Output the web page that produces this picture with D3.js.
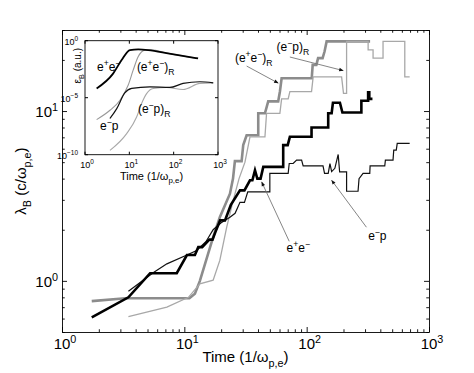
<!DOCTYPE html>
<html>
<head>
<meta charset="utf-8">
<script src="https://cdn.jsdelivr.net/npm/d3@7"></script>
<style>
body { margin: 0; background: #fff; }
svg { font-family: "Liberation Sans", Arial, sans-serif; }
</style>
</head>
<body>
<div id="chart"></div>
<script>
// main panel: lambda_B (c/w_pe) against time (1/w_pe)
var lamEE = [[1.75,0.61],[3.49,0.80],[5.25,1.11],[8.67,1.11],[10.5,1.42],[12.2,1.42],[13.0,1.58],[14.0,1.58],
  [16,1.75],[17,1.75],[18,1.95],[19.6,2.27],[21.5,2.27],[24,2.8],[28.5,3.41],[31,3.41],[34.4,3.91],[36,3.91],
  [37.8,4.48],[39.5,4.0],[42,4.0],[44.2,4.69],[64.3,4.69],[64.3,6.3],[70,6.3],[72.9,7.05],[109.6,7.05],
  [109.6,8.0],[150,8.0],[150,9.7],[160,9.7],[164,11.2],[187,11.2],[196,9.8],[280,9.8],[280,11.5],
  [318,11.5],[318,12.9],[325,12.9],[325,11.8],[345,11.8]];
var lamEP = [[3.49,0.87],[5.6,1.12],[7.2,1.26],[10.5,1.42],[12.6,1.51],[15,1.7],[17.2,2.0],[20,2.2],
  [23.6,2.37],[26,2.5],[28.5,2.9],[31,2.9],[33,3.34],[50,3.34],[50,4.29],[70.6,4.29],[72,4.91],[77.6,4.91],
  [82.7,5.14],[90.9,5.14],[93.6,4.75],[136,4.75],[140,4.29],[150,4.29],[155,4.9],[160,4.4],[170,4.6],
  [181,5.55],[186,4.38],[212,4.38],[212,3.37],[263,3.37],[268,4.0],[289,4.29],[328,4.29],[330,4.75],
  [435,4.75],[440,5.14],[508,5.14],[515,5.88],[540,5.88],[550,6.45],[695,6.45]];
var lamEER = [[1.75,0.76],[3.3,0.79],[11,0.79],[12.2,0.84],[13.4,1.0],[17.2,1.81],[19.5,2.37],[23.6,3.26],
  [25,4.0],[25.9,5.07],[29.4,5.07],[30.3,6.3],[32.3,7.2],[40.2,7.2],[40.2,9.7],[45.6,9.7],[48.5,11.4],
  [58.5,11.4],[60.4,13.0],[62.4,15.6],[110,15.6],[112,18.7],[120,18.7],[124,20.5],[135,20.5],[140,22.4],
  [145.6,25.7],[330,25.7]];
var lamEPR = [[3.49,0.615],[7.2,0.70],[10.8,0.80],[13.4,0.96],[17.2,1.01],[19.5,1.32],[22.2,2.07],
  [25.1,2.98],[28,4.0],[31.3,5.0],[34.4,7.05],[45.6,7.05],[47,9.7],[60.4,9.7],[62.4,11.8],[70.6,11.8],
  [72.9,13.0],[109.6,13.0],[113,15.9],[193,15.9],[200,12.7],[212,12.7],[212,25.7],[318,25.7],[318,22.9],
  [349,22.9],[349,20.5],[421,20.5],[421,25.7],[634,25.7],[634,15.9],[695,15.9]];

// inset: eps_B (a.u.) against time
var epsEE = [[1.83,6.5e-5],[4.3,1.3e-3],[6.7,0.02],[10.3,0.15],[15.9,0.17],[26.7,0.15],[80,0.074],[355,0.028]];
var epsEER = [[1.83,1.2e-7],[3.66,7.9e-7],[6.15,6.0e-6],[9.45,1.3e-4],[12.2,2.6e-3],[15.8,0.039],[22.5,0.15],[30,0.16],[80,0.074],[355,0.028]];
var epsEP = [[3.66,1.5e-7],[5.2,1.1e-6],[7.9,2.6e-5],[11.3,6.5e-5],[29,8.9e-5],[82,7.9e-5],[163,1.8e-4],[390,2.5e-4],[780,2.0e-4]];
var epsEPR = [[3.66,2.4e-10],[8.7,7.1e-9],[14.6,2.0e-7],[18.9,3.1e-6],[24.5,2.3e-5],[34.5,6.5e-5],[69,7.9e-5],[163,5.2e-5],[390,1.8e-4],[780,2.0e-4]];

var xTickPows = [0, 1, 2, 3];
var yTickPows = [0, 1];
var insetXPows = [0, 1, 2, 3];
var insetYPows = [0, -5, -10];

// annotations: label position, arrow start, arrow end (data coords)
var annoText = [
  {parts: [["(e",""],["+","sup"],["e",""],["\u2212","sup"],[")",""],["R","sub"]], at: [25.9,19.5], from: [32.3,18.4], to: [58.5,14.6]},
  {parts: [["(e",""],["\u2212","sup"],["p)",""],["R","sub"]], at: [56.8,22.6], from: [72.9,20.8], to: [199,17.3]},
  {parts: [["e",""],["+","sup"],["e",""],["\u2212","sup"]], at: [68.5,1.47], from: [72,1.71], to: [42.9,3.82]},
  {parts: [["e",""],["\u2212","sup"],["p",""]], at: [318,1.75], from: [308,2.07], to: [160,3.91]}
];
var insetText = [
  {parts: [["e",""],["+","sup"],["e",""],["\u2212","sup"]], at: [1.86,2.1e-3]},
  {parts: [["(e",""],["+","sup"],["e",""],["\u2212","sup"],[")",""],["R","sub"]], at: [14.8,2.1e-3]},
  {parts: [["e",""],["\u2212","sup"],["p",""]], at: [2.18,1.4e-8]},
  {parts: [["(e",""],["\u2212","sup"],["p)",""],["R","sub"]], at: [15.6,4.4e-7]}
];

var margin = {top: 30, right: 45, bottom: 41, left: 62},
    width = 474 - margin.left - margin.right,
    height = 373 - margin.top - margin.bottom;

var root = d3.select("#chart").append("svg")
    .attr("width", 474).attr("height", 373);
var svg = root.append("g")
    .attr("transform", "translate(" + margin.left + "," + margin.top + ")");

var defs = root.append("defs");
defs.append("clipPath").attr("id", "clip")
  .append("rect").attr("width", width).attr("height", height);
defs.append("marker").attr("id", "head")
    .attr("viewBox", "0 0 10 10").attr("refX", 9).attr("refY", 5)
    .attr("markerWidth", 6).attr("markerHeight", 5).attr("orient", "auto")
  .append("path").attr("d", "M0,1L10,5L0,9z").attr("fill", "#111");

// writes text with super/subscripts
function rich(t, parts, size) {
  var shift = 0;
  parts.forEach(function(p) {
    var target = p[1] === "sup" ? -size * 0.42 : p[1] === "sub" ? size * 0.32 : 0;
    t.append("tspan").attr("dy", target - shift)
      .attr("font-size", p[1] ? size * 0.72 : size).text(p[0]);
    shift = target;
  });
  return t;
}
function pow10(t, e, size) {
  return rich(t, [["10", ""], [String(e).replace("-", "\u2212"), "sup"]], size);
}
function isPow(d) {
  var l = Math.log10(d);
  return Math.abs(l - Math.round(l)) < 1e-9;
}

var x = d3.scaleLog().domain([1, 1000]).range([0, width]);
var y = d3.scaleLog().domain([0.5, 30]).range([height, 0]);

// frame + inward ticks on all four sides
function frameAxis(gen, tr, scale, vertical) {
  var g = svg.append("g").attr("transform", tr)
    .call(gen(scale).tickValues(scale.ticks()).tickSize(-5).tickSizeOuter(0).tickFormat(""));
  g.selectAll(".tick line").filter(function(d) { return !isPow(d); })
    .attr(vertical ? "x2" : "y2", function() {
      return +d3.select(this).attr(vertical ? "x2" : "y2") * 0.55;
    });
  g.selectAll("line, path").attr("stroke", "#000").attr("stroke-width", 0.9);
}
frameAxis(d3.axisBottom, "translate(0," + height + ")", x, false);
frameAxis(d3.axisTop, "translate(0,0)", x, false);
frameAxis(d3.axisLeft, "translate(0,0)", y, true);
frameAxis(d3.axisRight, "translate(" + width + ",0)", y, true);

xTickPows.forEach(function(p) {
  pow10(svg.append("text").attr("x", x(Math.pow(10, p)) + 3).attr("y", height + 17)
    .attr("text-anchor", "middle"), p, 15);
});
yTickPows.forEach(function(p) {
  pow10(svg.append("text").attr("x", -4).attr("y", y(Math.pow(10, p)) + 6)
    .attr("text-anchor", "end"), p, 15);
});

rich(svg.append("text").attr("x", width / 2).attr("y", height + 30).attr("text-anchor", "middle"),
  [["Time (1/\u03c9", ""], ["p,e", "sub"], [")", ""]], 15);
rich(svg.append("text").attr("transform", "translate(-36," + (height / 2) + ") rotate(-90)")
  .attr("text-anchor", "middle"),
  [["\u03bb", ""], ["B", "sub"], [" (c/\u03c9", ""], ["p,e", "sub"], [")", ""]], 15);

// curves
var line = d3.line().x(function(d) { return x(d[0]); }).y(function(d) { return y(d[1]); });
var plot = svg.append("g").attr("clip-path", "url(#clip)");
var series = [
  {data: lamEER, color: "#8c8c8c", w: 2.6},
  {data: lamEPR, color: "#a8a8a8", w: 1.3},
  {data: lamEP, color: "#111", w: 1.2},
  {data: lamEE, color: "#000", w: 2.6}
];
series.forEach(function(s) {
  plot.append("path").datum(s.data).attr("d", line)
    .attr("fill", "none").attr("stroke", s.color).attr("stroke-width", s.w)
    .attr("stroke-linejoin", "miter");
});

// annotations
annoText.forEach(function(a) {
  svg.append("line")
    .attr("x1", x(a.from[0])).attr("y1", y(a.from[1]))
    .attr("x2", x(a.to[0])).attr("y2", y(a.to[1]))
    .attr("stroke", "#777").attr("stroke-width", 0.9)
    .attr("marker-end", "url(#head)");
  rich(svg.append("text").attr("x", x(a.at[0])).attr("y", y(a.at[1])), a.parts, 12);
});

// inset
var iw = 133, ih = 114;
var inset = svg.append("g").attr("transform", "translate(23,10.7)");
var xi = d3.scaleLog().domain([1, 1000]).range([0, iw]);
var yi = d3.scaleLog().domain([1e-10, 1]).range([ih, 0]);
inset.append("rect").attr("width", iw).attr("height", ih)
  .attr("fill", "#fff").attr("stroke", "#000").attr("stroke-width", 0.9);

insetXPows.forEach(function(p) {
  var px = xi(Math.pow(10, p));
  inset.append("line").attr("x1", px).attr("x2", px).attr("y1", ih).attr("y2", ih - 3).attr("stroke", "#000");
  inset.append("line").attr("x1", px).attr("x2", px).attr("y1", 0).attr("y2", 3).attr("stroke", "#000");
  pow10(inset.append("text").attr("x", px + 2).attr("y", ih + 13).attr("text-anchor", "middle"), p, 9);
});
insetYPows.forEach(function(p) {
  var py = yi(Math.pow(10, p));
  inset.append("line").attr("x1", 0).attr("x2", 3).attr("y1", py).attr("y2", py).attr("stroke", "#000");
  inset.append("line").attr("x1", iw).attr("x2", iw - 3).attr("y1", py).attr("y2", py).attr("stroke", "#000");
  pow10(inset.append("text").attr("x", -7).attr("y", py + 4).attr("text-anchor", "end"), p, 9);
});
rich(inset.append("text").attr("x", iw / 2).attr("y", ih + 25).attr("text-anchor", "middle"),
  [["Time (1/\u03c9", ""], ["p,e", "sub"], [")", ""]], 11);
rich(inset.append("text").attr("transform", "translate(-4,25) rotate(-90)").attr("text-anchor", "middle"),
  [["\u03b5", ""], ["B", "sub"], [" (a.u.)", ""]], 10);

var iline = d3.line().curve(d3.curveMonotoneX)
  .x(function(d) { return xi(d[0]); }).y(function(d) { return yi(d[1]); });
[
  {data: epsEER, color: "#999", w: 1.1},
  {data: epsEPR, color: "#a8a8a8", w: 1.1},
  {data: epsEP, color: "#111", w: 1.2},
  {data: epsEE, color: "#000", w: 1.8}
].forEach(function(s) {
  inset.append("path").datum(s.data).attr("d", iline)
    .attr("fill", "none").attr("stroke", s.color).attr("stroke-width", s.w);
});
insetText.forEach(function(a) {
  rich(inset.append("text").attr("x", xi(a.at[0])).attr("y", yi(a.at[1])), a.parts, 12);
});
</script>
</body>
</html>
